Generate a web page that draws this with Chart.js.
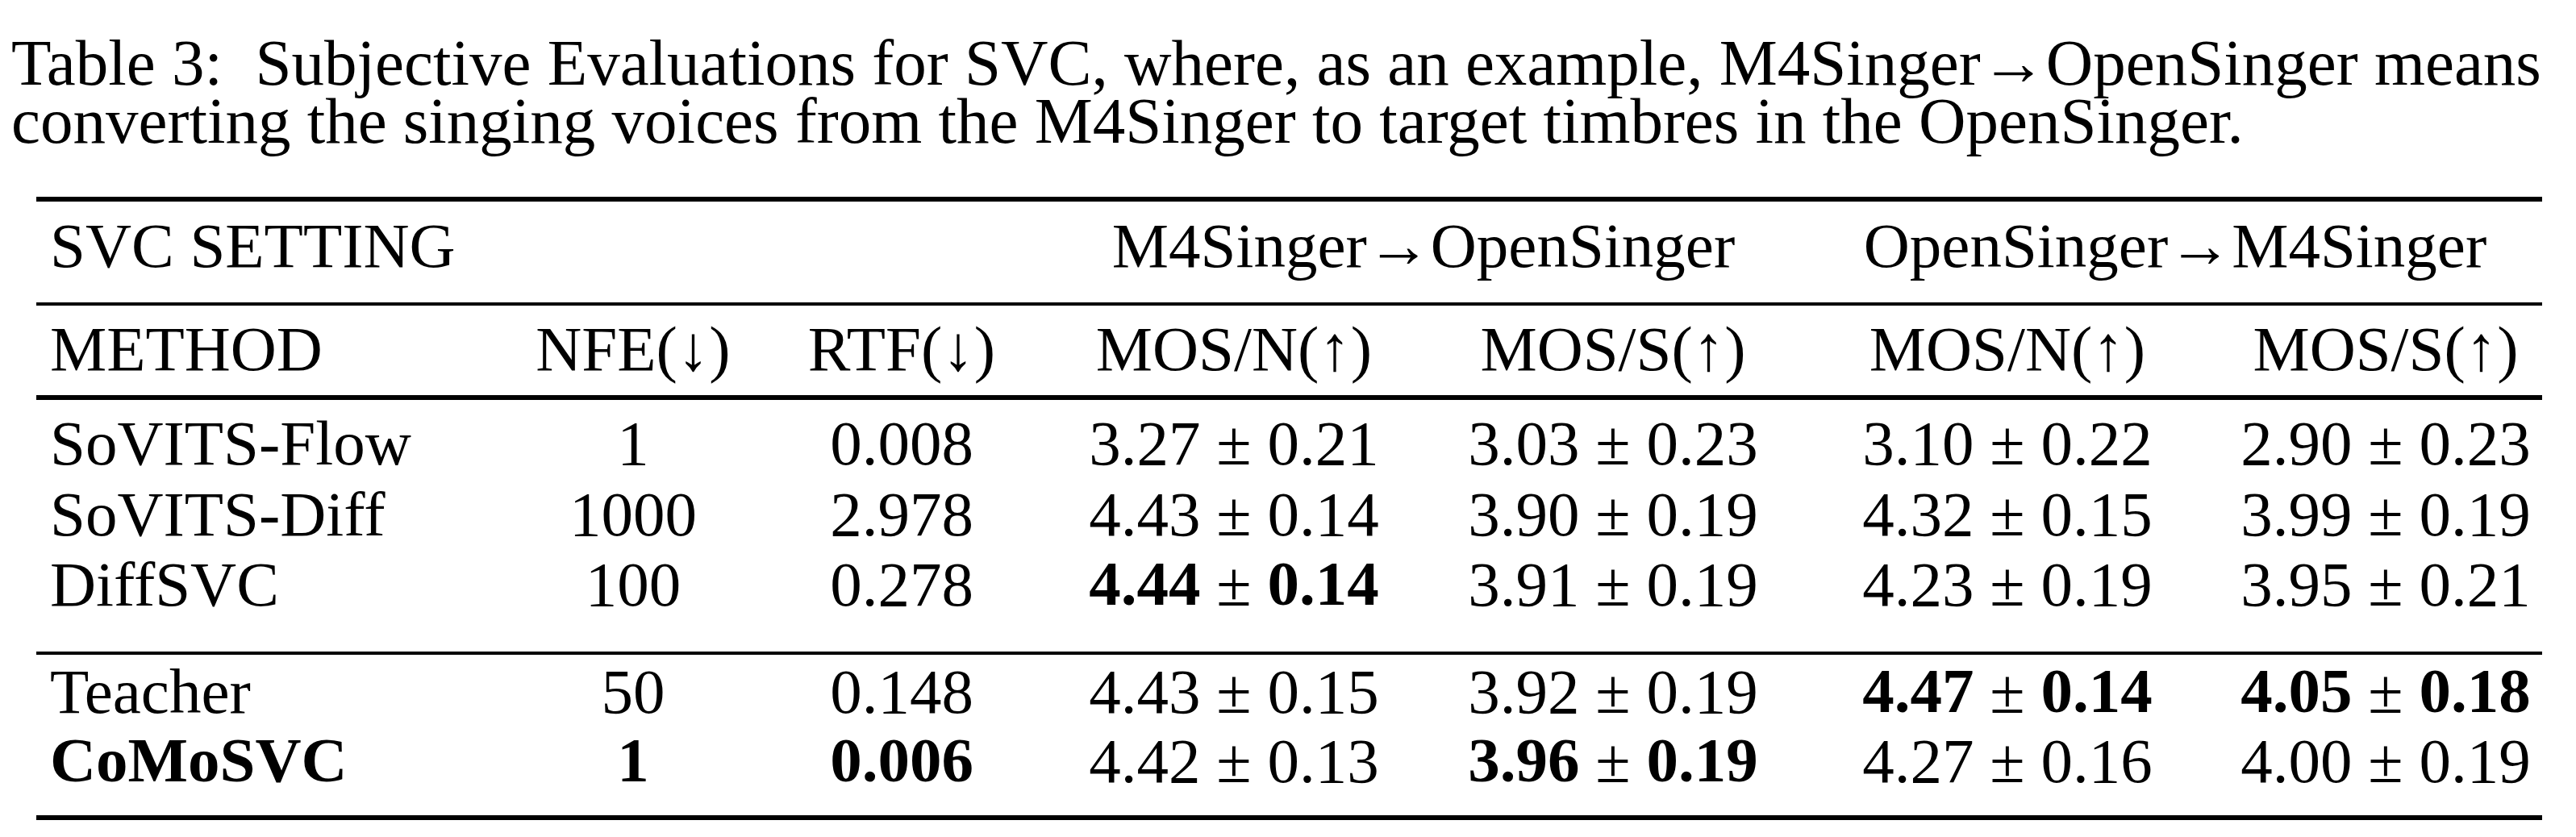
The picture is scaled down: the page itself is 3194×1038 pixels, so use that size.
<!DOCTYPE html>
<html>
<head>
<meta charset="utf-8">
<script src="https://cdn.jsdelivr.net/npm/chart.js@4"></script>
<style>
  html, body { margin: 0; padding: 0; background: #fff; }
  canvas { display: block; }
</style>
</head>
<body>
<canvas id="tableChart" width="3194" height="1038"></canvas>
<script>
// Table data
const captionLines = [
    'Table 3:  Subjective Evaluations for SVC, where, as an example, M4Singer\u2192OpenSinger means',
    'converting the singing voices from the M4Singer to target timbres in the OpenSinger.'
];
const groupHeaders = ['M4Singer\u2192OpenSinger', 'OpenSinger\u2192M4Singer'];
const columnHeaders = ['METHOD', 'NFE(\u2193)', 'RTF(\u2193)', 'MOS/N(\u2191)', 'MOS/S(\u2191)', 'MOS/N(\u2191)', 'MOS/S(\u2191)'];
const methods = ['SoVITS-Flow', 'SoVITS-Diff', 'DiffSVC', 'Teacher', 'CoMoSVC'];
const nfe = ['1', '1000', '100', '50', '1'];
const rtf = ['0.008', '2.978', '0.278', '0.148', '0.006'];
const mosN1 = [[3.27, 0.21], [4.43, 0.14], [4.44, 0.14], [4.43, 0.15], [4.42, 0.13]];
const mosS1 = [[3.03, 0.23], [3.90, 0.19], [3.91, 0.19], [3.92, 0.19], [3.96, 0.19]];
const mosN2 = [[3.10, 0.22], [4.32, 0.15], [4.23, 0.19], [4.47, 0.14], [4.27, 0.16]];
const mosS2 = [[2.90, 0.23], [3.99, 0.19], [3.95, 0.21], [4.05, 0.18], [4.00, 0.19]];
// bold flags per row: [method, nfe, rtf, mosN1, mosS1, mosN2, mosS2]
const boldCells = [
    [0, 0, 0, 0, 0, 0, 0],
    [0, 0, 0, 0, 0, 0, 0],
    [0, 0, 0, 1, 0, 0, 0],
    [0, 0, 0, 0, 0, 1, 1],
    [1, 1, 1, 0, 1, 0, 0]
];

// Layout
const FONT = '"Liberation Serif", "DejaVu Serif", serif';
const CELL_SIZE = 79, CAPTION_SIZE = 81;
const tableLeft = 45, tableRight = 3152;
const colX = [62, 785, 1118, 1530, 2000, 2489, 2958];
const groupX = [1765, 2697];
const rowY = [555, 643, 730, 863, 949];
const rules = [[247, 6], [377, 4], [493, 6], [810, 4], [1014, 6]];

function drawCell(ctx, parts, x, y, align) {
    // parts: [[text, bold], ...]
    let widths = parts.map(p => {
        ctx.font = (p[1] ? 'bold ' : '') + CELL_SIZE + 'px ' + FONT;
        return ctx.measureText(p[0]).width;
    });
    let total = widths.reduce((a, b) => a + b, 0);
    let cx = align === 'left' ? x : x - total / 2;
    ctx.textAlign = 'left';
    parts.forEach((p, i) => {
        ctx.font = (p[1] ? 'bold ' : '') + CELL_SIZE + 'px ' + FONT;
        ctx.fillText(p[0], cx, y);
        cx += widths[i];
    });
}

const tablePlugin = {
    id: 'tablePlugin',
    afterDraw(chart) {
        const ctx = chart.ctx;
        ctx.save();
        ctx.fillStyle = '#000';
        ctx.textBaseline = 'middle';
        ctx.font = CAPTION_SIZE + 'px ' + FONT;
        ctx.textAlign = 'left';
        captionLines.forEach((line, i) => ctx.fillText(line, 14, 84 + i * 72));

        rules.forEach(([y, w]) => ctx.fillRect(tableLeft, y - w / 2, tableRight - tableLeft, w));

        drawCell(ctx, [['SVC SETTING', false]], colX[0], 310, 'left');
        groupHeaders.forEach((g, i) => drawCell(ctx, [[g, false]], groupX[i], 310, 'center'));
        columnHeaders.forEach((h, i) => drawCell(ctx, [[h, false]], colX[i], 438, i === 0 ? 'left' : 'center'));

        const mosCols = [mosN1, mosS1, mosN2, mosS2];
        methods.forEach((m, r) => {
            const y = rowY[r];
            const b = boldCells[r];
            drawCell(ctx, [[m, b[0]]], colX[0], y, 'left');
            drawCell(ctx, [[nfe[r], b[1]]], colX[1], y, 'center');
            drawCell(ctx, [[rtf[r], b[2]]], colX[2], y, 'center');
            mosCols.forEach((col, c) => {
                const bold = !!b[3 + c];
                drawCell(ctx, [[col[r][0].toFixed(2), bold], [' \u00b1 ', false], [col[r][1].toFixed(2), bold]],
                    colX[3 + c], y, 'center');
            });
        });
        ctx.restore();
    }
};

new Chart(document.getElementById('tableChart'), {
    type: 'scatter',
    data: { datasets: [{ data: [] }] },
    options: {
        responsive: false,
        animation: false,
        devicePixelRatio: 1,
        plugins: { legend: { display: false }, tooltip: { enabled: false } },
        scales: { x: { display: false }, y: { display: false } }
    },
    plugins: [tablePlugin]
});
</script>
</body>
</html>
